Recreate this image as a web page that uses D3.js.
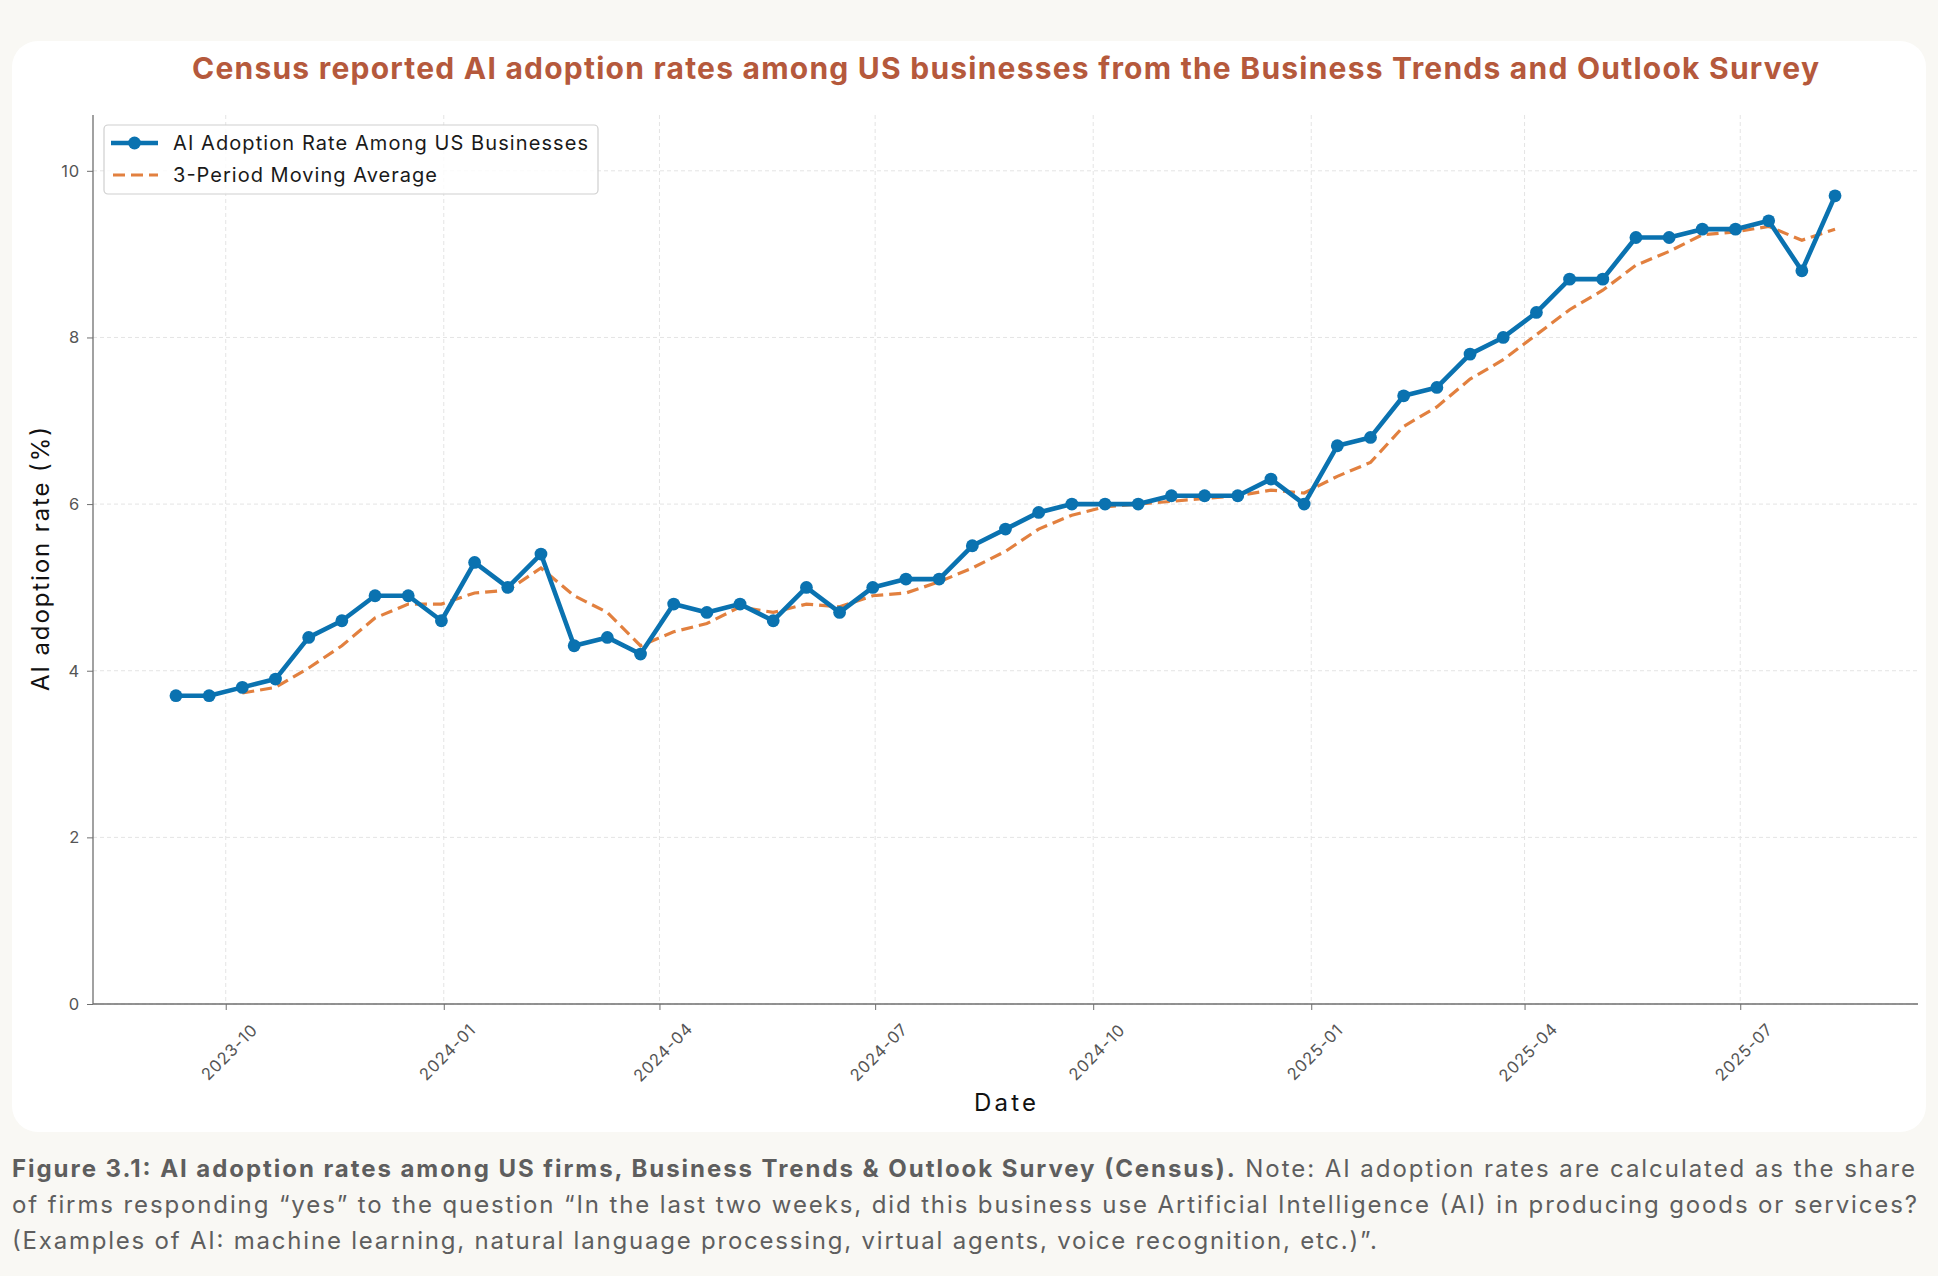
<!DOCTYPE html>
<html>
<head>
<meta charset="utf-8">
<script src="https://cdn.jsdelivr.net/npm/d3@7"></script>
<style>
  html, body { margin: 0; padding: 0; background: #f9f8f4; }
  svg { display: block; }
</style>
</head>
<body>
<svg id="chart" width="1938" height="1276"></svg>
<script>
// ---- Data ----
const dates = [
  "2023-09-10","2023-09-24","2023-10-08","2023-10-22","2023-11-05","2023-11-19","2023-12-03","2023-12-17",
  "2023-12-31","2024-01-14","2024-01-28","2024-02-11","2024-02-25","2024-03-10","2024-03-24","2024-04-07",
  "2024-04-21","2024-05-05","2024-05-19","2024-06-02","2024-06-16","2024-06-30","2024-07-14","2024-07-28",
  "2024-08-11","2024-08-25","2024-09-08","2024-09-22","2024-10-06","2024-10-20","2024-11-03","2024-11-17",
  "2024-12-01","2024-12-15","2024-12-29","2025-01-12","2025-01-26","2025-02-09","2025-02-23","2025-03-09",
  "2025-03-23","2025-04-06","2025-04-20","2025-05-04","2025-05-18","2025-06-01","2025-06-15","2025-06-29",
  "2025-07-13","2025-07-27","2025-08-10"
];
const adoptionRate = [
  3.7,3.7,3.8,3.9,4.4,4.6,4.9,4.9,
  4.6,5.3,5.0,5.4,4.3,4.4,4.2,4.8,
  4.7,4.8,4.6,5.0,4.7,5.0,5.1,5.1,
  5.5,5.7,5.9,6.0,6.0,6.0,6.1,6.1,
  6.1,6.3,6.0,6.7,6.8,7.3,7.4,7.8,
  8.0,8.3,8.7,8.7,9.2,9.2,9.3,9.3,
  9.4,8.8,9.7
];
// 3-period moving average (first two periods undefined)
const movingAverage = [
  null,null,3.733,3.8,4.033,4.3,4.633,4.8,
  4.8,4.933,4.967,5.233,4.9,4.7,4.3,4.467,
  4.567,4.767,4.7,4.8,4.767,4.9,4.933,5.067,
  5.233,5.433,5.7,5.867,5.967,6.0,6.033,6.067,
  6.1,6.167,6.133,6.333,6.5,6.933,7.167,7.5,
  7.733,8.033,8.333,8.567,8.867,9.033,9.233,9.267,
  9.333,9.167,9.3
];
const yTicks = [0, 2, 4, 6, 8, 10];
const seriesNames = ["AI Adoption Rate Among US Businesses", "3-Period Moving Average"];
const titleText = "Census reported AI adoption rates among US businesses from the Business Trends and Outlook Survey";
const xLabel = "Date";
const yLabel = "AI adoption rate (%)";
const captionBold = "Figure 3.1: AI adoption rates among US firms, Business Trends & Outlook Survey (Census).";
const captionLines = [
  " Note: AI adoption rates are calculated as the share",
  "of firms responding \u201Cyes\u201D to the question \u201CIn the last two weeks, did this business use Artificial Intelligence (AI) in producing goods or services?",
  "(Examples of AI: machine learning, natural language processing, virtual agents, voice recognition, etc.)\u201D."
];

// ---- Setup ----
const FONT = "Inter, 'Noto Sans', sans-serif";
const svg = d3.select("#chart");
const plot = { left: 93, right: 1918, top: 115, bottom: 1004 };

const parse = d3.timeParse("%Y-%m-%d");
const pts = dates.map((d, i) => ({ date: parse(d), v: adoptionRate[i], ma: movingAverage[i] }));

// card
svg.append("rect").attr("x", 12).attr("y", 41).attr("width", 1914).attr("height", 1091)
  .attr("rx", 26).attr("fill", "#ffffff");

// title
svg.append("text").attr("x", 192).attr("y", 68)
  .attr("dominant-baseline", "central")
  .attr("font-family", FONT).attr("font-weight", 700).attr("font-size", 30)
  .attr("textLength", 1627).attr("lengthAdjust", "spacing")
  .attr("fill", "#b5593c").text(titleText);

// scales
const dMin = pts[0].date, dMax = pts[pts.length - 1].date;
const span = dMax - dMin;
const x = d3.scaleTime()
  .domain([new Date(+dMin - span * 0.05), new Date(+dMax + span * 0.05)])
  .range([plot.left, plot.right]);
const y = d3.scaleLinear().domain([0, d3.max(adoptionRate) * 1.1]).range([plot.bottom, plot.top]);

const xTicks = x.ticks(d3.timeMonth.every(3));

// grid
const g = svg.append("g");
g.selectAll(".gx").data(xTicks).join("line")
  .attr("x1", d => x(d)).attr("x2", d => x(d)).attr("y1", plot.top).attr("y2", plot.bottom)
  .attr("stroke", "#e4e4e4").attr("stroke-width", 1).attr("stroke-dasharray", "4,3");
g.selectAll(".gy").data(yTicks).join("line")
  .attr("x1", plot.left).attr("x2", plot.right).attr("y1", d => y(d)).attr("y2", d => y(d))
  .attr("stroke", "#e4e4e4").attr("stroke-width", 1).attr("stroke-dasharray", "4,3");

// axes
const yAxis = svg.append("g").attr("transform", `translate(${plot.left},0)`)
  .call(d3.axisLeft(y).tickValues(yTicks).tickFormat(d3.format("d")).tickSize(6).tickPadding(7));
const xAxis = svg.append("g").attr("transform", `translate(0,${plot.bottom})`)
  .call(d3.axisBottom(x).tickValues(xTicks).tickFormat(d3.timeFormat("%Y-%m")).tickSize(6));
[yAxis, xAxis].forEach(a => {
  a.select(".domain").attr("stroke", "#6f6f6f").attr("stroke-width", 1.3);
  a.selectAll(".tick line").attr("stroke", "#6f6f6f").attr("stroke-width", 1);
  a.selectAll("text").attr("font-family", FONT).attr("font-size", 16.5)
    .attr("letter-spacing", 0.8).attr("fill", "#555");
});
yAxis.select(".domain").attr("d", `M0,${plot.bottom}V${plot.top}`);
xAxis.select(".domain").attr("d", `M${plot.left},0H${plot.right}`);
xAxis.selectAll(".tick text")
  .attr("text-anchor", "middle").attr("dominant-baseline", "central")
  .attr("y", 0).attr("dy", 0)
  .attr("transform", "translate(3,48) rotate(-45)");

// axis labels
svg.append("text").attr("x", 1005).attr("y", 1102).attr("text-anchor", "middle")
  .attr("dominant-baseline", "central").attr("font-family", FONT).attr("font-size", 24)
  .attr("textLength", 62).attr("lengthAdjust", "spacing")
  .attr("fill", "#111").text(xLabel);
svg.append("text").attr("transform", "translate(40,559) rotate(-90)").attr("text-anchor", "middle")
  .attr("dominant-baseline", "central").attr("font-family", FONT).attr("font-size", 24)
  .attr("textLength", 264).attr("lengthAdjust", "spacing")
  .attr("fill", "#111").text(yLabel);

// lines
const BLUE = "#0a72b0", ORANGE = "#e2803f";
const lineMain = d3.line().x(d => x(d.date)).y(d => y(d.v));
const lineMA = d3.line().defined(d => d.ma != null).x(d => x(d.date)).y(d => y(d.ma));

svg.append("path").datum(pts).attr("d", lineMA).attr("fill", "none")
  .attr("stroke", ORANGE).attr("stroke-width", 3.2).attr("stroke-dasharray", "12,6");
svg.append("path").datum(pts).attr("d", lineMain).attr("fill", "none")
  .attr("stroke", BLUE).attr("stroke-width", 4.6).attr("stroke-linejoin", "round");
svg.selectAll(".pt").data(pts).join("circle")
  .attr("cx", d => x(d.date)).attr("cy", d => y(d.v)).attr("r", 6.4).attr("fill", BLUE);

// legend
const lg = svg.append("g");
lg.append("rect").attr("x", 104).attr("y", 125).attr("width", 494).attr("height", 69).attr("rx", 4)
  .attr("fill", "#fff").attr("fill-opacity", 0.85).attr("stroke", "#cfcfcf").attr("stroke-width", 1.2);
lg.append("line").attr("x1", 111).attr("x2", 158).attr("y1", 143).attr("y2", 143)
  .attr("stroke", BLUE).attr("stroke-width", 4.6);
lg.append("circle").attr("cx", 134.5).attr("cy", 143).attr("r", 6.4).attr("fill", BLUE);
lg.append("line").attr("x1", 113).attr("x2", 158).attr("y1", 175).attr("y2", 175)
  .attr("stroke", ORANGE).attr("stroke-width", 3.2).attr("stroke-dasharray", "12,6");
const legendLens = [415, 264];
lg.selectAll(".lt").data(seriesNames).join("text")
  .attr("x", 173).attr("y", (d, i) => 143 + i * 32).attr("dominant-baseline", "central")
  .attr("font-family", FONT).attr("font-size", 20).attr("fill", "#1a1a1a")
  .attr("textLength", (d, i) => legendLens[i]).attr("lengthAdjust", "spacing")
  .text(d => d);

// caption
const cap = svg.append("g").attr("font-family", FONT).attr("font-size", 24).attr("fill", "#5e5e5e");
const l1 = cap.append("text").attr("x", 12).attr("y", 1168).attr("dominant-baseline", "central")
  .attr("textLength", 1903).attr("lengthAdjust", "spacing");
l1.append("tspan").attr("font-weight", 700).text(captionBold);
l1.append("tspan").text(captionLines[0]);
cap.append("text").attr("x", 12).attr("y", 1204).attr("dominant-baseline", "central")
  .attr("textLength", 1905).attr("lengthAdjust", "spacing").text(captionLines[1]);
cap.append("text").attr("x", 12).attr("y", 1240).attr("dominant-baseline", "central")
  .attr("textLength", 1365).attr("lengthAdjust", "spacing").text(captionLines[2]);
</script>
</body>
</html>
